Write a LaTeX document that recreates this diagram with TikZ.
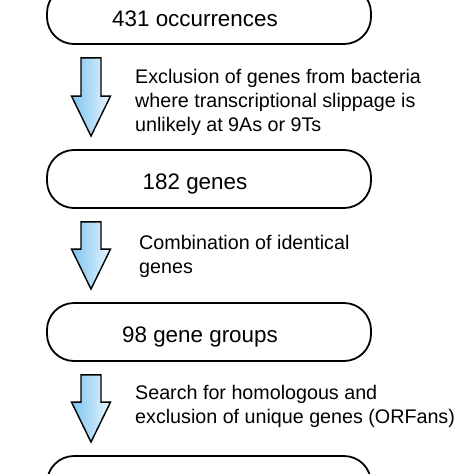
\documentclass[tikz,border=0pt]{standalone}
\usepackage{fontspec}
\setmainfont{Liberation Sans}
\usetikzlibrary{calc}
\definecolor{arrowdark}{RGB}{125,195,240}
\definecolor{arrowlight}{RGB}{232,246,255}
\tikzset{
  stepbox/.style={draw=black, line width=1.8pt, rounded corners=27pt, rectangle,
    minimum width=324pt, minimum height=58pt, inner sep=0pt, fill=white},
  boxtext/.style={font=\fontsize{22.4pt}{26pt}\selectfont, anchor=base, inner sep=0pt},
  desctext/.style={font=\fontsize{19.7pt}{24pt}\selectfont, anchor=north west, align=left, inner sep=0pt},
  fatarrow/.style={draw=black, line width=1.4pt, line join=miter, left color=arrowdark, right color=arrowlight}
}
\begin{document}
\begin{tikzpicture}[x=1pt,y=-1pt]
\useasboundingbox (0,0) rectangle (474,474);
\clip (0,0) rectangle (474,474);
\node[stepbox] (b1) at (209,15) {};
\node[stepbox] (b2) at (209,179) {};
\node[stepbox] (b3) at (209,332) {};
\node[stepbox] (b4) at (209,485) {};
\node[boxtext] (t1) at ($(b1.center)+(-14,11)$) {431 occurrences};
\node[boxtext] (t2) at ($(b2.center)+(-14,10)$) {182 genes};
\node[boxtext] (t3) at ($(b3.center)+(-9,10)$) {98 gene groups};
\foreach \u/\l [count=\i] in {b1/b2,b2/b3,b3/b4}{
  \coordinate (s\i) at ($(\u.south)+(-118,13)$);
  \coordinate (e\i) at ($(\l.north)+(-118,-13)$);
  \draw[fatarrow] ($(s\i)+(-10,0)$) -- ($(s\i)+(10,0)$) -- ($(e\i)+(10,-40)$) -- ($(e\i)+(19.5,-40)$) -- (e\i) -- ($(e\i)+(-19.5,-40)$) -- ($(e\i)+(-10,-40)$) -- cycle;
}
\node[desctext] (d1) at (135,68.7) {Exclusion of genes from bacteria\\where transcriptional slippage is\\unlikely at 9As or 9Ts};
\node[desctext] (d2) at (139,234.7) {Combination of identical\\genes};
\node[desctext] (d3) at (135,384.7) {Search for homologous and\\exclusion of unique genes (ORFans)};
\end{tikzpicture}
\end{document}
